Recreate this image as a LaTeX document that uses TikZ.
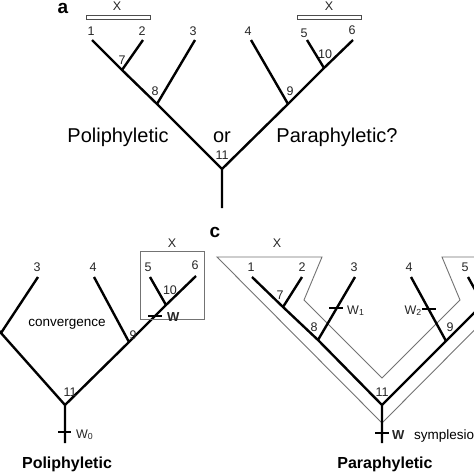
\documentclass[tikz,border=0pt]{standalone}
\usepackage{fontspec}
\setmainfont{Liberation Sans}
\usetikzlibrary{positioning}

\tikzset{
  branch/.style={line width=2.4pt},
  wtick/.style={line width=1.6pt},
  thin/.style={line width=0.9pt, draw=black!55},
  num/.style={inner sep=0pt, font=\fontsize{12.5}{14}\selectfont, text=black!85},
  word/.style={inner sep=0pt, anchor=base, font=\fontsize{13.5}{16}\selectfont},
  title/.style={inner sep=0pt, anchor=base, font=\bfseries\fontsize{16}{18}\selectfont},
  panel/.style={inner sep=0pt, anchor=base, font=\bfseries\fontsize{19}{20}\selectfont}
}

\begin{document}
\begin{tikzpicture}[x=1pt, y=-1pt]
    \useasboundingbox (0,0) rectangle (474,474);
    \clip (0,0) rectangle (474,474);
    \fill[white] (0,0) rectangle (474,474);

    % Top: the question
    \begin{scope}
        \coordinate (a1) at (92,40);
        \coordinate (a2) at (143,40);
        \coordinate (a3) at (195,40);
        \coordinate (a4) at (251,40);
        \coordinate (a5) at (307,40);
        \coordinate (a6) at (353,40);
        \coordinate (a7) at (122,70);
        \coordinate (a8) at (157,104);
        \coordinate (a9) at (288,104);
        \coordinate (a10) at (324,68);
        \coordinate (a11) at (222,169);
        \coordinate (a0) at (222,208);

        \draw[branch] (a0) -- (a11) -- (a8) -- (a7) -- (a1);
        \draw[branch] (a7) -- (a2);
        \draw[branch] (a8) -- (a3);
        \draw[branch] (a11) -- (a9) -- (a10) -- (a6);
        \draw[branch] (a9) -- (a4);
        \draw[branch] (a10) -- (a5);

        % bars over the X groups
        \draw[line width=1pt, draw=black!70] (86,15) rectangle (150,19);
        \draw[line width=1pt, draw=black!70] (297,15) rectangle (361,19);
        \node[num, anchor=base] (ax1) at (117,10) {X};
        \node[num, anchor=base] (ax2) at (329,10) {X};
        \node[panel] (pa) at (63,13) {a};

        \node[num] (la1) at (91,31) {1};
        \node[num] (la2) at (142,31) {2};
        \node[num] (la3) at (193,31) {3};
        \node[num] (la4) at (248,31) {4};
        \node[num] (la5) at (304,33) {5};
        \node[num] (la6) at (352,30) {6};
        \node[num] (la7) at (122,60) {7};
        \node[num] (la8) at (155,91) {8};
        \node[num] (la9) at (290,91) {9};
        \node[num] (la10) at (325,54) {10};
        \node[num] (la11) at (222,155) {11};

        \node[inner sep=0pt, anchor=base, font=\fontsize{20}{22}\selectfont] (qpoly) at (118,142) {Poliphyletic};
        \node[inner sep=0pt, anchor=base, font=\fontsize{20}{22}\selectfont] (qor) at (222,142) {or};
        \node[inner sep=0pt, anchor=base, font=\fontsize{20}{22}\selectfont] (qpara) at (337,142) {Paraphyletic?};
    \end{scope}

    % Bottom left: poliphyletic
    \begin{scope}
        \coordinate (b7) at (-35,295);
        \coordinate (b8) at (1,333);
        \coordinate (b3) at (38,277);
        \coordinate (b4) at (94,277);
        \coordinate (b5) at (150,277);
        \coordinate (b6) at (196,276);
        \coordinate (b10) at (166,305);
        \coordinate (b9) at (129,342);
        \coordinate (b11) at (65,405);
        \coordinate (b0) at (65,443);
        \coordinate (bw) at (155,316);
        \coordinate (bw0) at (65,432);

        \draw[branch] (b0) -- (b11) -- (b8) -- (b7);
        \draw[branch] (b8) -- (b3);
        \draw[branch] (b11) -- (b9) -- (b10) -- (b6);
        \draw[branch] (b9) -- (b4);
        \draw[branch] (b10) -- (b5);
        \draw[wtick] (bw) ++(-7,0) -- ++(14,0);
        \draw[wtick] (bw0) ++(-7,0) -- ++(13,0);

        \draw[thin] (140,251) rectangle (204,319);
        \node[num] (bx) at (172,243) {X};

        \node[num] (lb8) at (-3,327) {8};
        \node[num] (lb3) at (37,267) {3};
        \node[num] (lb4) at (93,267) {4};
        \node[num] (lb5) at (148,267) {5};
        \node[num] (lb6) at (195,265) {6};
        \node[num] (lb10) at (170,290) {10};
        \node[num] (lb9) at (133,335) {9};
        \node[num] (lb11) at (70,392) {11};

        \node[num, font=\bfseries\fontsize{13}{14}\selectfont, anchor=base west] (bW) at (167,321) {W};
        \node[num, anchor=base west] (bW0) at (76,438) {W\textsubscript{0}};
        \node[word] (conv) at (67,326) {convergence};
        \node[title] (tpoly) at (67,468) {Poliphyletic};
    \end{scope}

    % Bottom right: paraphyletic
    \begin{scope}
        \coordinate (c1) at (252,277);
        \coordinate (c2) at (302,277);
        \coordinate (c3) at (355,277);
        \coordinate (c4) at (411,277);
        \coordinate (c5) at (468,277);
        \coordinate (c6) at (510,277);
        \coordinate (c7) at (283,307);
        \coordinate (c8) at (318,340);
        \coordinate (c9) at (446,341);
        \coordinate (c10) at (483,304);
        \coordinate (c11) at (382,405);
        \coordinate (c0) at (382,443);
        \coordinate (cw1) at (336,308);
        \coordinate (cw2) at (429,309);
        \coordinate (cw) at (382,433);

        % outline of the group
        \draw[thin] (217,257) -- (322,257) -- (304,300) -- (382,378) -- (460,300)
            -- (442,257) -- (547,257) -- (382,423) -- cycle;

        \draw[branch] (c0) -- (c11) -- (c8) -- (c7) -- (c1);
        \draw[branch] (c7) -- (c2);
        \draw[branch] (c8) -- (c3);
        \draw[branch] (c11) -- (c9) -- (c10) -- (c6);
        \draw[branch] (c9) -- (c4);
        \draw[branch] (c10) -- (c5);
        \draw[wtick] (cw1) ++(-7,0) -- ++(14,0);
        \draw[wtick] (cw2) ++(-7,0) -- ++(14,0);
        \draw[wtick] (cw) ++(-7,0) -- ++(14,0);

        \node[panel] (pc) at (215,237) {c};
        \node[num] (cx) at (277,243) {X};

        \node[num] (lc1) at (251,267) {1};
        \node[num] (lc2) at (302,267) {2};
        \node[num] (lc3) at (354,267) {3};
        \node[num] (lc4) at (409,267) {4};
        \node[num] (lc5) at (465,267) {5};
        \node[num] (lc7) at (280,295) {7};
        \node[num] (lc8) at (314,327) {8};
        \node[num] (lc9) at (450,327) {9};
        \node[num] (lc11) at (382,392) {11};

        \node[num, anchor=base west] (cW1) at (347,314) {W\textsubscript{1}};
        \node[num, anchor=base east] (cW2) at (422,314) {W\textsubscript{2}};
        \node[num, font=\bfseries\fontsize{13}{14}\selectfont, anchor=base west] (cW) at (392,439) {W};
        \node[word, anchor=base west] (symp) at (414,439) {symplesiomorphy};
        \node[title] (tpara) at (385,468) {Paraphyletic};
    \end{scope}
\end{tikzpicture}
\end{document}
